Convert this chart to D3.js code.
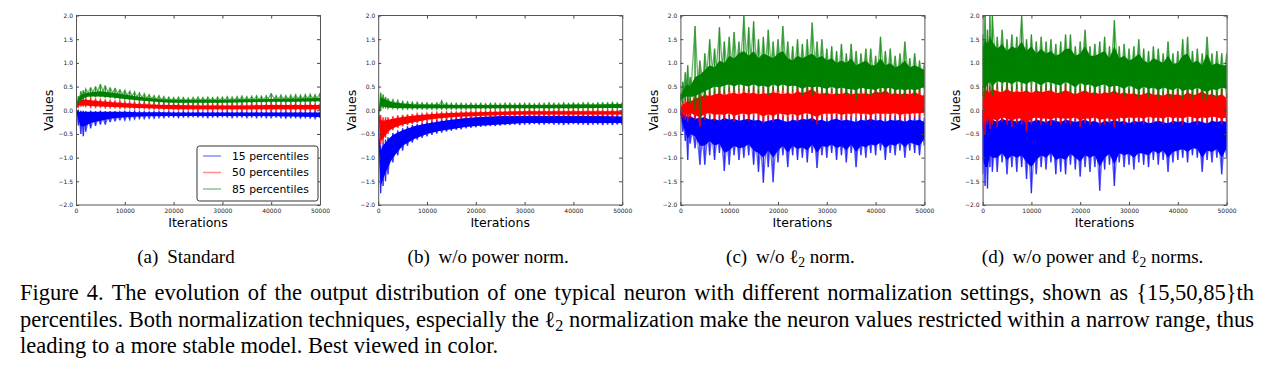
<!DOCTYPE html>
<html>
<head>
<meta charset="utf-8">
<script src="https://cdn.jsdelivr.net/npm/d3@7"></script>
<style>
  body { margin: 0; background: #fff; }
  svg { display: block; }
</style>
</head>
<body>
<svg id="fig" width="1282" height="374"></svg>
<script>
// ---- data ----
const iters = [0, 500, 1000, 1500, 2000, 3000, 4000, 5000, 6000, 7000,
  8000, 9000, 10000, 11000, 12000, 13000, 14000, 15000, 16000, 17000,
  18000, 19000, 20000, 21000, 22000, 23000, 24000, 25000, 26000, 27000,
  28000, 29000, 30000, 31000, 32000, 33000, 34000, 35000, 36000, 37000,
  38000, 39000, 40000, 41000, 42000, 43000, 44000, 45000, 46000, 47000,
  48000, 49000, 50000];
const coarseIters = [0, 500, 1000, 2000, 3000, 5000, 7500, 10000, 12500, 15000, 17500, 20000, 25000, 30000, 35000, 40000, 45000, 50000];

const yTicks = [2.0, 1.5, 1.0, 0.5, 0.0, -0.5, -1.0, -1.5, -2.0];
const xTicks = [0, 10000, 20000, 30000, 40000, 50000];
const seriesNames = ["15 percentiles", "50 percentiles", "85 percentiles"];
const seriesColors = ["#0000ff", "#ff0000", "#008000"];
const subCaptions = [["(a)", "Standard"], ["(b)", "w/o power norm."], ["(c)", "w/o ℓ_2 norm."], ["(d)", "w/o power and ℓ_2 norms."]];
const captionLines = [
  "Figure 4. The evolution of the output distribution of one typical neuron with different normalization settings, shown as {15,50,85}th",
  "percentiles. Both normalization techniques, especially the ℓ_2 normalization make the neuron values restricted within a narrow range, thus",
  "leading to a more stable model. Best viewed in color."
];

// (a) Standard: spike tips on iters, dense band on coarseIters
const aBlueHi = [0.02,0.0,-0.01,-0.01,-0.02,-0.01,-0.02,-0.01,-0.02,-0.02, -0.02,-0.03,-0.02,-0.03,-0.02,-0.03,-0.03,-0.04,-0.03,-0.03, -0.04,-0.03,-0.04,-0.04,-0.03,-0.04,-0.04,-0.03,-0.04,-0.04, -0.03,-0.04,-0.04,-0.03,-0.04,-0.04,-0.03,-0.04,-0.04,-0.03, -0.04,-0.04,-0.03,-0.04,-0.04,-0.03,-0.04,-0.04,-0.03,-0.04, -0.04,-0.03,-0.04];
const aBlueLo = [-0.05,-0.32,-0.5,-0.55,-0.45,-0.38,-0.33,-0.3,-0.3,-0.25, -0.23,-0.21,-0.2,-0.19,-0.18,-0.17,-0.17,-0.16,-0.16,-0.15, -0.15,-0.14,-0.14,-0.15,-0.14,-0.14,-0.13,-0.14,-0.14,-0.15, -0.14,-0.14,-0.13,-0.14,-0.15,-0.14,-0.14,-0.15,-0.14,-0.15, -0.14,-0.15,-0.15,-0.14,-0.15,-0.16,-0.15,-0.15,-0.16,-0.15, -0.16,-0.17,-0.16];
const aRedHi = [0.08,0.2,0.25,0.25,0.25,0.24,0.23,0.22,0.21,0.2, 0.19,0.19,0.18,0.17,0.17,0.16,0.16,0.15,0.15,0.14, 0.14,0.13,0.13,0.13,0.12,0.13,0.12,0.13,0.12,0.13, 0.12,0.13,0.12,0.12,0.13,0.12,0.13,0.12,0.13,0.13, 0.12,0.13,0.14,0.13,0.13,0.12,0.13,0.14,0.13,0.13, 0.14,0.13,0.14];
const aRedLo = [0.02,0.06,0.08,0.08,0.08,0.07,0.07,0.07,0.06,0.06, 0.06,0.05,0.05,0.05,0.04,0.04,0.04,0.03,0.03,0.03, 0.02,0.02,0.02,0.01,0.01,0.01,0.01,0.0,0.01,0.0, 0.0,0.01,0.0,0.0,0.0,0.01,0.0,0.0,0.0,0.0, 0.0,0.0,-0.01,0.0,0.0,0.0,-0.01,0.0,0.0,-0.01, 0.0,-0.01,-0.01];
const aGreenHi = [0.1,0.3,0.4,0.42,0.45,0.48,0.5,0.55,0.52,0.48, 0.47,0.44,0.42,0.4,0.38,0.36,0.34,0.32,0.3,0.3, 0.28,0.27,0.26,0.27,0.26,0.25,0.26,0.27,0.26,0.27, 0.26,0.27,0.27,0.28,0.27,0.28,0.29,0.28,0.29,0.3, 0.29,0.3,0.36,0.3,0.31,0.3,0.31,0.32,0.31,0.32, 0.33,0.32,0.36];
const aGreenLo = [0.05,0.15,0.2,0.23,0.26,0.28,0.28,0.28,0.27,0.26, 0.25,0.24,0.23,0.22,0.21,0.2,0.19,0.18,0.17,0.16, 0.16,0.15,0.15,0.15,0.14,0.15,0.14,0.15,0.14,0.15, 0.15,0.14,0.15,0.15,0.15,0.15,0.15,0.16,0.15,0.16, 0.16,0.16,0.16,0.16,0.17,0.16,0.17,0.16,0.17,0.17, 0.17,0.17,0.18];
const aBlueCoreHi = [0.0,-0.03,-0.03,-0.03,-0.03,-0.03,-0.03,-0.03,-0.04,-0.04,-0.04,-0.05,-0.05,-0.05,-0.05,-0.05,-0.05,-0.05];
const aBlueCoreLo = [-0.02,-0.2,-0.35,-0.32,-0.27,-0.22,-0.17,-0.15,-0.13,-0.12,-0.12,-0.12,-0.12,-0.12,-0.12,-0.12,-0.13,-0.14];
const aRedCoreHi = [0.05,0.17,0.22,0.22,0.21,0.19,0.17,0.15,0.13,0.12,0.11,0.11,0.1,0.1,0.1,0.11,0.11,0.11];
const aRedCoreLo = [0.03,0.1,0.1,0.1,0.09,0.08,0.07,0.06,0.05,0.04,0.03,0.02,0.02,0.02,0.02,0.02,0.02,0.02];
const aGreenCoreHi = [0.08,0.25,0.32,0.36,0.38,0.4,0.37,0.33,0.29,0.26,0.23,0.22,0.22,0.22,0.23,0.24,0.25,0.26];
const aGreenCoreLo = [0.06,0.18,0.22,0.28,0.29,0.29,0.27,0.24,0.21,0.19,0.17,0.16,0.16,0.16,0.17,0.18,0.18,0.19];

// (b) w/o power norm.
const bBlueHi = [-0.2,-0.75,-0.68,-0.62,-0.57,-0.48,-0.43,-0.38,-0.34,-0.31, -0.29,-0.27,-0.25,-0.23,-0.21,-0.2,-0.18,-0.17,-0.16,-0.15, -0.14,-0.14,-0.13,-0.12,-0.12,-0.11,-0.11,-0.1,-0.1,-0.11, -0.1,-0.1,-0.09,-0.1,-0.1,-0.09,-0.1,-0.1,-0.09,-0.1, -0.1,-0.09,-0.1,-0.1,-0.09,-0.1,-0.1,-0.1,-0.09,-0.1, -0.1,-0.1,-0.11];
const bBlueLo = [-0.6,-1.75,-1.6,-1.5,-1.35,-1.1,-0.95,-0.85,-0.75,-0.68, -0.62,-0.58,-0.55,-0.52,-0.49,-0.47,-0.45,-0.43,-0.41,-0.4, -0.38,-0.37,-0.36,-0.35,-0.34,-0.33,-0.33,-0.32,-0.31,-0.31, -0.3,-0.31,-0.3,-0.3,-0.29,-0.3,-0.3,-0.29,-0.3,-0.3, -0.31,-0.3,-0.29,-0.3,-0.3,-0.31,-0.3,-0.3,-0.31,-0.3, -0.31,-0.3,-0.31];
const bRedHi = [0.02,-0.1,-0.15,-0.15,-0.15,-0.13,-0.11,-0.1,-0.09,-0.08, -0.07,-0.07,-0.06,-0.06,-0.05,-0.05,-0.04,-0.04,-0.04,-0.03, -0.03,-0.02,-0.02,-0.02,-0.02,-0.01,-0.01,-0.01,-0.01,0.0, 0.0,0.0,0.0,0.01,0.0,0.0,0.01,0.0,0.0,0.01, 0.0,0.0,0.01,0.0,0.0,0.01,0.0,0.01,0.0,0.0, 0.01,0.0,0.01];
const bRedLo = [-0.2,-0.72,-0.68,-0.58,-0.5,-0.42,-0.37,-0.34,-0.31,-0.29, -0.27,-0.25,-0.23,-0.22,-0.2,-0.19,-0.18,-0.17,-0.16,-0.16, -0.15,-0.15,-0.14,-0.14,-0.13,-0.13,-0.13,-0.12,-0.12,-0.12, -0.12,-0.11,-0.11,-0.12,-0.11,-0.11,-0.11,-0.12,-0.11,-0.11, -0.11,-0.11,-0.12,-0.11,-0.11,-0.11,-0.12,-0.11,-0.11,-0.11, -0.12,-0.11,-0.11];
const bGreenHi = [0.0,0.37,0.33,0.28,0.25,0.22,0.2,0.18,0.17,0.16, 0.16,0.15,0.15,0.14,0.15,0.19,0.15,0.14,0.14,0.14, 0.13,0.14,0.13,0.14,0.13,0.14,0.14,0.13,0.14,0.14, 0.13,0.14,0.14,0.14,0.13,0.14,0.14,0.15,0.14,0.14, 0.15,0.14,0.15,0.14,0.15,0.15,0.14,0.15,0.15,0.15, 0.16,0.15,0.16];
const bGreenLo = [-0.2,0.0,0.04,0.04,0.04,0.04,0.03,0.03,0.03,0.03, 0.03,0.03,0.03,0.03,0.03,0.03,0.03,0.03,0.03,0.03, 0.03,0.03,0.03,0.03,0.03,0.03,0.03,0.03,0.03,0.03, 0.03,0.03,0.03,0.03,0.03,0.04,0.03,0.03,0.04,0.03, 0.04,0.03,0.04,0.03,0.04,0.04,0.03,0.04,0.04,0.04, 0.04,0.04,0.04];
const bBlueCoreHi = [-0.3,-0.85,-0.75,-0.62,-0.52,-0.42,-0.33,-0.28,-0.24,-0.2,-0.17,-0.15,-0.12,-0.12,-0.12,-0.12,-0.12,-0.13];
const bBlueCoreLo = [-0.5,-1.6,-1.45,-1.2,-1.0,-0.75,-0.6,-0.5,-0.44,-0.4,-0.36,-0.33,-0.3,-0.27,-0.27,-0.27,-0.27,-0.27];
const bRedCoreHi = [0.0,-0.2,-0.22,-0.2,-0.18,-0.14,-0.11,-0.09,-0.07,-0.06,-0.05,-0.04,-0.03,-0.02,-0.02,-0.02,-0.02,-0.02];
const bRedCoreLo = [-0.1,-0.65,-0.6,-0.45,-0.38,-0.3,-0.25,-0.2,-0.17,-0.15,-0.13,-0.12,-0.1,-0.09,-0.09,-0.09,-0.09,-0.09];
const bGreenCoreHi = [-0.05,0.28,0.25,0.2,0.17,0.14,0.12,0.12,0.12,0.11,0.11,0.11,0.11,0.11,0.11,0.12,0.12,0.13];
const bGreenCoreLo = [-0.15,0.08,0.08,0.06,0.05,0.04,0.04,0.04,0.04,0.04,0.04,0.04,0.04,0.04,0.04,0.04,0.05,0.05];

// (c) w/o l2 norm.: spike tips and dense band, both on iters
const cBlueHi = [0.0,-0.02,-0.05,-0.08,-0.05,-0.1,-0.08,-0.05,-0.1,-0.08, -0.12,-0.05,-0.1,-0.08,-0.12,-0.1,-0.08,-0.12,-0.1,-0.15, -0.12,-0.1,-0.08,-0.12,-0.15,-0.1,-0.12,-0.08,-0.1,-0.05, -0.12,-0.1,-0.15,-0.1,-0.08,-0.12,-0.1,-0.12,-0.15,-0.1, -0.12,-0.08,-0.12,-0.1,-0.15,-0.1,-0.12,-0.1,-0.15,-0.1, -0.12,-0.1,-0.15];
const cBlueLo = [-0.1,-0.45,-0.65,-1.05,-0.7,-0.8,-1.15,-1.15,-0.95,-1.05, -0.9,-1.28,-1.15,-0.95,-1.05,-1.0,-0.95,-1.15,-1.3,-1.53, -1.2,-1.52,-1.1,-0.95,-1.2,-0.95,-1.05,-1.0,-1.1,-0.9, -1.22,-0.95,-1.0,-0.9,-1.05,-0.95,-1.1,-0.9,-1.2,-0.95, -1.0,-0.9,-0.95,-0.85,-1.05,-0.9,-0.95,-0.85,-1.0,-0.85, -0.9,-0.95,-0.75];
const cRedHi = [0.1,0.2,0.25,0.3,0.25,0.35,0.4,0.45,0.42,0.45, 0.5,0.45,0.48,0.5,0.45,0.52,0.48,0.5,0.45,0.5, 0.47,0.5,0.52,0.48,0.5,0.45,0.55,0.5,0.55,0.65, 0.5,0.48,0.5,0.45,0.5,0.47,0.52,0.45,0.5,0.48, 0.5,0.45,0.55,0.5,0.6,0.48,0.5,0.45,0.5,0.45, 0.55,0.45,0.4];
const cRedLo = [-0.05,-0.15,-0.2,-0.25,-0.15,-0.2,-0.35,-0.2,-0.15,-0.22, -0.18,-0.2,-0.15,-0.25,-0.2,-0.18,-0.22,-0.15,-0.2,-0.28, -0.2,-0.25,-0.18,-0.2,-0.22,-0.18,-0.25,-0.2,-0.15,-0.22, -0.3,-0.2,-0.18,-0.2,-0.15,-0.22,-0.18,-0.2,-0.15,-0.2, -0.18,-0.22,-0.15,-0.2,-0.18,-0.2,-0.15,-0.22,-0.18,-0.2, -0.15,-0.18,-0.12];
const cGreenHi = [0.35,0.6,0.8,0.95,0.7,1.78,1.05,1.2,1.5,1.3, 1.75,1.45,1.55,1.65,1.45,2.0,1.75,1.88,1.5,1.55, 1.7,1.45,1.5,1.78,1.45,1.35,1.5,1.4,1.5,1.85, 1.45,1.5,1.3,1.35,1.25,1.4,1.2,1.4,1.25,1.2, 1.3,1.3,1.15,1.55,1.25,1.3,1.15,1.2,1.45,1.1, 1.2,1.05,1.0];
const cGreenLo = [0.1,0.15,0.2,0.15,0.15,0.0,-0.2,0.25,0.3,0.35, 0.3,0.35,0.4,0.38,0.42,0.4,0.38,0.4,0.35,0.38, 0.3,0.4,0.38,0.42,0.35,0.4,0.38,0.3,0.35,0.3, 0.38,0.35,0.32,0.38,0.3,0.35,0.33,0.3,0.22,0.35, 0.3,0.32,0.28,0.35,0.3,0.35,0.3,0.32,0.28,0.35, 0.3,0.35,0.4];
const cBlueCoreHi = [-0.02,-0.08,-0.1,-0.15,-0.12,-0.18,-0.16,-0.15,-0.2,-0.18, -0.22,-0.16,-0.2,-0.18,-0.22,-0.2,-0.18,-0.22,-0.2,-0.25, -0.22,-0.2,-0.18,-0.22,-0.25,-0.2,-0.22,-0.18,-0.2,-0.16, -0.22,-0.2,-0.25,-0.2,-0.18,-0.22,-0.2,-0.22,-0.25,-0.2, -0.22,-0.18,-0.22,-0.2,-0.25,-0.2,-0.22,-0.2,-0.25,-0.2, -0.22,-0.2,-0.25];
const cBlueCoreLo = [-0.08,-0.3,-0.45,-0.6,-0.5,-0.55,-0.75,-0.75,-0.65,-0.75, -0.7,-0.9,-0.85,-0.75,-0.8,-0.78,-0.72,-0.85,-0.9,-1.0, -0.85,-1.0,-0.85,-0.75,-0.9,-0.75,-0.82,-0.78,-0.85,-0.72, -0.9,-0.75,-0.78,-0.72,-0.8,-0.75,-0.85,-0.72,-0.88,-0.75, -0.78,-0.72,-0.75,-0.68,-0.8,-0.72,-0.75,-0.68,-0.78,-0.68, -0.72,-0.75,-0.6];
const cRedCoreHi = [0.05,0.12,0.15,0.2,0.18,0.25,0.28,0.32,0.3,0.33, 0.36,0.32,0.35,0.37,0.33,0.38,0.35,0.37,0.33,0.36, 0.35,0.38,0.36,0.34,0.37,0.33,0.4,0.36,0.4,0.45, 0.36,0.35,0.37,0.33,0.36,0.34,0.38,0.33,0.36,0.35, 0.36,0.33,0.4,0.36,0.42,0.34,0.36,0.33,0.36,0.33, 0.38,0.33,0.3];
const cRedCoreLo = [0.0,-0.05,-0.08,-0.1,-0.06,-0.1,-0.15,-0.08,-0.06,-0.1, -0.08,-0.1,-0.06,-0.12,-0.08,-0.07,-0.1,-0.06,-0.08,-0.13, -0.08,-0.12,-0.07,-0.08,-0.1,-0.07,-0.12,-0.08,-0.06,-0.1, -0.14,-0.08,-0.07,-0.08,-0.06,-0.1,-0.07,-0.08,-0.06,-0.08, -0.07,-0.1,-0.06,-0.08,-0.07,-0.08,-0.06,-0.1,-0.07,-0.08, -0.06,-0.07,-0.05];
const cGreenCoreHi = [0.3,0.4,0.5,0.55,0.5,0.7,0.75,0.85,0.95,0.9, 1.05,1.0,1.15,1.1,1.2,1.25,1.15,1.25,1.1,1.2, 1.15,1.1,1.2,1.25,1.1,1.05,1.15,1.1,1.15,1.2, 1.1,1.15,1.05,1.1,1.0,1.05,1.0,1.1,0.95,1.0, 1.05,0.95,0.95,1.1,0.95,1.0,0.9,0.95,1.05,0.9, 0.95,0.9,0.85];
const cGreenCoreLo = [0.2,0.25,0.28,0.3,0.28,0.3,0.35,0.4,0.45,0.5, 0.48,0.52,0.55,0.5,0.55,0.52,0.5,0.55,0.5,0.52, 0.48,0.55,0.5,0.55,0.5,0.52,0.5,0.45,0.5,0.48, 0.5,0.48,0.45,0.5,0.45,0.48,0.45,0.45,0.42,0.48, 0.45,0.45,0.42,0.48,0.45,0.48,0.42,0.45,0.42,0.45, 0.42,0.45,0.5];

// (d) w/o power and l2 norms.
const dBlueHi = [0.0,-0.1,-0.05,-0.12,-0.1,-0.15,-0.08,-0.12,-0.1,-0.15, -0.1,-0.12,-0.15,-0.1,-0.12,-0.15,-0.1,-0.12,-0.15,-0.1, -0.12,-0.15,-0.12,-0.1,-0.15,-0.12,-0.18,-0.12,-0.15,-0.1, -0.15,-0.12,-0.18,-0.12,-0.15,-0.12,-0.18,-0.15,-0.12,-0.15, -0.18,-0.12,-0.15,-0.12,-0.18,-0.15,-0.12,-0.15,-0.18,-0.12, -0.15,-0.12,-0.15];
const dBlueLo = [-1.35,-1.6,-1.65,-1.2,-1.3,-1.3,-1.1,-1.35,-1.2,-1.3, -1.2,-1.45,-1.75,-1.35,-1.2,-1.25,-1.1,-1.35,-1.3,-1.35, -1.15,-1.25,-1.4,-1.2,-1.3,-1.2,-1.7,-1.25,-1.15,-1.6, -1.1,-1.2,-1.15,-1.25,-1.1,-1.15,-1.2,-1.05,-1.15,-1.05, -1.3,-1.1,-1.05,-1.0,-1.1,-0.95,-1.0,-1.3,-1.05,-1.1, -1.0,-1.35,-1.0];
const dRedHi = [0.5,0.6,0.55,0.5,0.6,0.55,0.5,0.6,0.5,0.55, 0.5,0.55,0.48,0.55,0.5,0.52,0.55,0.48,0.5,0.55, 0.5,0.45,0.5,0.55,0.48,0.5,0.45,0.5,0.48,0.55, 0.45,0.5,0.45,0.48,0.42,0.45,0.5,0.42,0.45,0.4, 0.48,0.42,0.45,0.4,0.5,0.42,0.45,0.55,0.42,0.45, 0.4,0.45,0.35];
const dRedLo = [-0.35,-0.5,-0.3,-0.4,-0.3,-0.35,-0.25,-0.3,-0.35,-0.28, -0.3,-0.45,-0.3,-0.25,-0.3,-0.28,-0.32,-0.25,-0.3,-0.28, -0.3,-0.25,-0.35,-0.28,-0.3,-0.25,-0.32,-0.3,-0.28,-0.35, -0.25,-0.3,-0.25,-0.28,-0.25,-0.3,-0.22,-0.28,-0.25,-0.3, -0.22,-0.28,-0.25,-0.3,-0.22,-0.25,-0.3,-0.25,-0.28,-0.22, -0.25,-0.3,-0.25];
const dGreenHi = [1.6,2.0,1.7,2.0,2.0,1.55,1.7,1.5,1.6,1.55, 2.0,1.5,1.6,1.45,1.55,1.45,1.5,1.4,1.45,1.6, 1.6,1.35,1.45,1.7,1.35,1.4,1.45,1.55,1.35,1.9, 1.35,1.4,1.3,1.35,1.5,1.3,1.25,1.35,1.3,1.2, 1.45,1.2,1.25,1.5,1.55,1.25,1.3,1.2,1.55,1.2, 1.25,1.2,1.2];
const dGreenLo = [0.3,0.25,0.35,0.4,0.3,0.45,0.4,0.42,0.35,0.45, 0.4,0.38,0.45,0.4,0.35,0.42,0.4,0.38,0.35,0.42, 0.38,0.3,0.4,0.35,0.38,0.3,0.35,0.38,0.3,0.35, 0.32,0.28,0.35,0.3,0.25,0.32,0.28,0.3,0.25,0.3, 0.28,0.25,0.3,0.22,0.28,0.25,0.3,0.25,0.2,0.28, 0.25,0.3,0.28];
const dBlueCoreHi = [-0.1,-0.2,-0.15,-0.22,-0.2,-0.25,-0.18,-0.22,-0.2,-0.25, -0.2,-0.22,-0.25,-0.2,-0.22,-0.25,-0.2,-0.22,-0.25,-0.2, -0.22,-0.25,-0.22,-0.2,-0.25,-0.22,-0.28,-0.22,-0.25,-0.2, -0.25,-0.22,-0.28,-0.22,-0.25,-0.22,-0.28,-0.25,-0.22,-0.25, -0.28,-0.22,-0.25,-0.22,-0.28,-0.25,-0.22,-0.25,-0.28,-0.22, -0.25,-0.22,-0.25];
const dBlueCoreLo = [-1.0,-1.2,-1.2,-0.95,-1.0,-1.0,-0.9,-1.05,-0.95,-1.0, -0.95,-1.1,-1.2,-1.05,-0.95,-1.0,-0.9,-1.05,-1.0,-1.05, -0.92,-1.0,-1.08,-0.95,-1.0,-0.95,-1.2,-1.0,-0.92,-1.15, -0.9,-0.95,-0.92,-1.0,-0.9,-0.92,-0.95,-0.85,-0.92,-0.85, -1.0,-0.88,-0.85,-0.82,-0.88,-0.8,-0.82,-1.0,-0.85,-0.88, -0.82,-1.0,-0.8];
const dRedCoreHi = [0.35,0.45,0.4,0.38,0.45,0.4,0.38,0.45,0.38,0.4, 0.38,0.42,0.36,0.42,0.38,0.4,0.42,0.36,0.38,0.42, 0.38,0.34,0.38,0.42,0.36,0.38,0.34,0.38,0.36,0.42, 0.34,0.38,0.34,0.36,0.32,0.34,0.38,0.32,0.34,0.3, 0.36,0.32,0.34,0.3,0.38,0.32,0.34,0.4,0.32,0.34, 0.3,0.34,0.26];
const dRedCoreLo = [-0.2,-0.3,-0.18,-0.25,-0.18,-0.22,-0.15,-0.18,-0.22,-0.17, -0.18,-0.28,-0.18,-0.15,-0.18,-0.17,-0.2,-0.15,-0.18,-0.17, -0.18,-0.15,-0.22,-0.17,-0.18,-0.15,-0.2,-0.18,-0.17,-0.22, -0.15,-0.18,-0.15,-0.17,-0.15,-0.18,-0.13,-0.17,-0.15,-0.18, -0.13,-0.17,-0.15,-0.18,-0.13,-0.15,-0.18,-0.15,-0.17,-0.13, -0.15,-0.18,-0.15];
const dGreenCoreHi = [1.3,1.5,1.4,1.55,1.45,1.3,1.4,1.25,1.35,1.3, 1.45,1.25,1.35,1.2,1.3,1.2,1.25,1.15,1.2,1.3, 1.3,1.15,1.2,1.35,1.15,1.15,1.2,1.25,1.1,1.35, 1.1,1.15,1.05,1.1,1.2,1.05,1.0,1.1,1.05,1.0, 1.15,0.98,1.0,1.15,1.2,1.0,1.05,0.95,1.2,0.95, 1.0,0.95,0.95];
const dGreenCoreLo = [0.5,0.45,0.55,0.6,0.5,0.62,0.58,0.6,0.55,0.62, 0.58,0.55,0.62,0.58,0.52,0.6,0.58,0.55,0.52,0.6, 0.55,0.48,0.58,0.52,0.55,0.48,0.52,0.55,0.48,0.52, 0.5,0.45,0.52,0.48,0.42,0.5,0.45,0.48,0.42,0.48, 0.45,0.42,0.48,0.4,0.45,0.42,0.48,0.42,0.38,0.45, 0.42,0.48,0.45];

// [tip high, tip low, band high, band low, band grid]
const panels = [
  [[aBlueHi, aBlueLo, aBlueCoreHi, aBlueCoreLo, coarseIters], [aRedHi, aRedLo, aRedCoreHi, aRedCoreLo, coarseIters], [aGreenHi, aGreenLo, aGreenCoreHi, aGreenCoreLo, coarseIters]],
  [[bBlueHi, bBlueLo, bBlueCoreHi, bBlueCoreLo, coarseIters], [bRedHi, bRedLo, bRedCoreHi, bRedCoreLo, coarseIters], [bGreenHi, bGreenLo, bGreenCoreHi, bGreenCoreLo, coarseIters]],
  [[cBlueHi, cBlueLo, cBlueCoreHi, cBlueCoreLo, iters], [cRedHi, cRedLo, cRedCoreHi, cRedCoreLo, iters], [cGreenHi, cGreenLo, cGreenCoreHi, cGreenCoreLo, iters]],
  [[dBlueHi, dBlueLo, dBlueCoreHi, dBlueCoreLo, iters], [dRedHi, dRedLo, dRedCoreHi, dRedCoreLo, iters], [dGreenHi, dGreenLo, dGreenCoreHi, dGreenCoreLo, iters]]
];

// ---- layout ----
const W = 244, H = 189.5, TOP = 15.5;
const svg = d3.select("#fig");
const x = d3.scaleLinear().domain([0, 50000]).range([0, W]);
const y = d3.scaleLinear().domain([-2, 2]).range([H, 0]);
const sans = "DejaVu Sans";
const serif = "Liberation Serif";

// writes text with "ℓ_2" turned into an l with subscript 2
function richText(sel, str, size) {
  const parts = str.split("ℓ_2");
  parts.forEach((p, i) => {
    if (p) sel.append("tspan").text(p).attr("dy", i > 0 ? -size * 0.2 : null);
    if (i < parts.length - 1) {
      sel.append("tspan").text("ℓ").attr("dy", i > 0 && !p ? -size * 0.2 : null);
      sel.append("tspan").text("2").attr("font-size", size * 0.72).attr("dy", size * 0.2);
    }
  });
}

panels.forEach((series, pi) => {
  const left = 76 + pi * 302.2;
  const g = svg.append("g").attr("transform", `translate(${left},${TOP})`);
  g.append("clipPath").attr("id", "clip" + pi)
    .append("rect").attr("width", W).attr("height", H);
  const plot = g.append("g").attr("clip-path", `url(#clip${pi})`);

  series.forEach(([hi, lo, coreHi, coreLo, grid], si) => {
    const core = grid.map((it, k) => ({ it, hi: coreHi[k], lo: coreLo[k] }));
    plot.append("path")
      .datum(core)
      .attr("fill", seriesColors[si])
      .attr("d", d3.area().x(d => x(d.it)).y0(d => y(d.lo)).y1(d => y(d.hi)));

    // noise: every sample goes from its high to its low value; two passes
    // (high first / low first) so the strokes cross like dense jitter
    const down = [], up = [];
    iters.forEach((it, k) => {
      down.push([x(it), y(hi[k])], [x(it), y(lo[k])]);
      up.push([x(it), y(lo[k])], [x(it), y(hi[k])]);
    });
    [down, up].forEach(pts => {
      plot.append("path")
        .attr("d", d3.line()(pts))
        .attr("fill", "none")
        .attr("stroke", seriesColors[si])
        .attr("stroke-width", 1.25)
        .attr("stroke-opacity", 0.6);
    });
  });

  // axes, ticks pointing inward on all four sides
  const styleAxis = a => {
    a.attr("font-family", sans).attr("font-size", 6).attr("color", "#444");
    a.select(".domain").remove();
    a.selectAll("text").attr("fill", "#222");
  };
  g.append("g").call(d3.axisLeft(y).tickValues(yTicks).tickSize(-3).tickPadding(3).tickFormat(d3.format(".1f"))).call(styleAxis);
  g.append("g").attr("transform", `translate(${W},0)`).call(d3.axisRight(y).tickValues(yTicks).tickSize(-3).tickFormat("")).call(styleAxis);
  g.append("g").attr("transform", `translate(0,${H})`).call(d3.axisBottom(x).tickValues(xTicks).tickSize(-3).tickPadding(4).tickFormat(d3.format("d"))).call(styleAxis);
  g.append("g").call(d3.axisTop(x).tickValues(xTicks).tickSize(-3).tickFormat("")).call(styleAxis);

  g.append("rect")
    .attr("x", 0.5).attr("y", 0).attr("width", W).attr("height", H)
    .attr("fill", "none").attr("stroke", "#555").attr("stroke-width", 1);

  g.append("text")
    .attr("transform", `translate(-27,${H / 2}) rotate(-90)`)
    .attr("text-anchor", "middle").attr("dy", "0.35em")
    .attr("font-family", sans).attr("font-size", 12.5)
    .text("Values");
  g.append("text")
    .attr("x", W / 2).attr("y", H + 21.5)
    .attr("text-anchor", "middle")
    .attr("font-family", sans).attr("font-size", 12.5)
    .text("Iterations");

  // sub caption
  const sc = svg.append("text")
    .attr("x", left + 110).attr("y", 263)
    .attr("text-anchor", "middle")
    .attr("font-family", serif).attr("font-size", 19);
  sc.append("tspan").text(subCaptions[pi][0] + " ");
  richText(sc.append("tspan").attr("dx", 4), subCaptions[pi][1], 19);

  // legend only in the first panel
  if (pi === 0) {
    const lg = g.append("g").attr("transform", "translate(121,130.5)");
    lg.append("rect")
      .attr("width", 121).attr("height", 55).attr("rx", 2.5)
      .attr("fill", "#fff").attr("stroke", "#333").attr("stroke-width", 1);
    seriesNames.forEach((name, i) => {
      const ry = 10 + i * 16.5;
      lg.append("line")
        .attr("x1", 6).attr("x2", 24).attr("y1", ry).attr("y2", ry)
        .attr("stroke", seriesColors[i]).attr("stroke-opacity", 0.45).attr("stroke-width", 1.5);
      lg.append("text")
        .attr("x", 35).attr("y", ry).attr("dy", "0.35em")
        .attr("font-family", sans).attr("font-size", 10.8)
        .text(name);
    });
  }
});

// ---- figure caption, justified line by line ----
const capSize = 22.5, capLeft = 20, capRight = 1254;
captionLines.forEach((line, li) => {
  const words = line.split(" ");
  const baseline = 300 + li * 26.5;
  const els = words.map(w => {
    const t = svg.append("text").attr("y", baseline)
      .attr("font-family", serif).attr("font-size", capSize);
    richText(t, w, capSize);
    return t;
  });
  const widths = els.map(t => t.node().getComputedTextLength());
  const total = d3.sum(widths);
  const justify = li < captionLines.length - 1;
  const gap = justify ? (capRight - capLeft - total) / (words.length - 1) : capSize * 0.25;
  let cx = capLeft;
  els.forEach((t, i) => {
    t.attr("x", cx);
    cx += widths[i] + gap;
  });
});
</script>
</body>
</html>
